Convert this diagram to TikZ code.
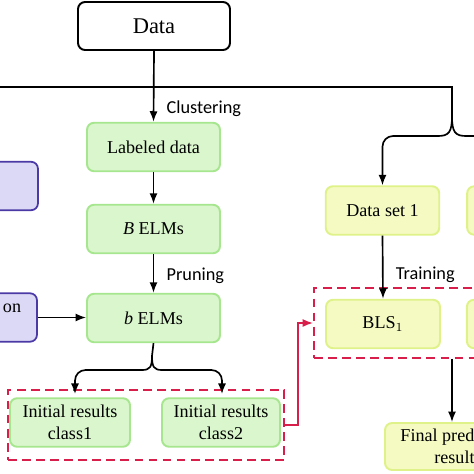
\documentclass[tikz,border=0pt]{standalone}
\usepackage{fontspec}
\setmainfont{Liberation Serif}
\newfontfamily\lblfont{Carlito}
\usepackage{tikz}
\usetikzlibrary{calc,positioning,arrows,arrows.meta,fit}
\tikzset{>={Latex[length=6pt,width=4.6pt]}}
\definecolor{grfill}{HTML}{DAF6CC}
\definecolor{grline}{HTML}{A6E68E}
\definecolor{yefill}{HTML}{F4FAC2}
\definecolor{yeline}{HTML}{DFF28A}
\definecolor{pufill}{HTML}{DCD9F6}
\definecolor{puline}{HTML}{4B3AA6}
\definecolor{redln}{HTML}{D81E4A}

\begin{document}
\begin{tikzpicture}[x=0.02cm, y=-0.02cm, line width=0.95pt,
  box/.style = {rectangle, rounded corners=4pt, align=center, inner sep=0pt, font=\fontsize{10.3}{12.3}\selectfont},
  green/.style = {box, draw=grline, fill=grfill, line width=1.1pt, minimum width=2.66cm, minimum height=0.97cm},
  yellow/.style = {box, draw=yeline, fill=yefill, line width=1.1pt, minimum width=2.27cm, minimum height=0.97cm},
  purple/.style = {box, draw=puline, fill=pufill, line width=1pt, minimum width=1.96cm, minimum height=0.97cm},
  reddash/.style = {rectangle, draw=redln, dashed, dash pattern=on 5pt off 3pt, line width=1pt, inner sep=0pt},
  lbl/.style = {anchor=west, inner sep=0pt, font=\lblfont\fontsize{10.4}{12}\selectfont}]
          \useasboundingbox (0,0) rectangle (474,474);
          \clip (0,0) rectangle (474,474);
          % nodes
          \node[box, draw=black, line width=1.1pt, minimum width=3.04cm, minimum height=0.96cm, font=\fontsize{12.8}{14}\selectfont] (data) at (154,26) {Data};
          \node[green] (labeled) at (153.5,147) {Labeled data};
          \node[green] (bigelms) at (153.5,229) {\textit{B} ELMs};
          \node[green] (smallelms) at (153.5,318) {\textit{b} ELMs};
          \node[purple] (purA) at (-11,186) {};
          \node[purple] (purB) at (-12,317.5) {};
          \node[inner sep=0pt, font=\fontsize{10.3}{12.3}\selectfont] (purBtext) at (12,308) {on};
          \node[green, minimum width=2.4cm] (classA) at (70,422.5) {Initial results\\class1};
          \node[green, minimum width=2.36cm] (classB) at (221,422.5) {Initial results\\class2};
          \node[reddash, minimum width=5.52cm, minimum height=1.4cm] (redA) at (146,425) {};

          \node[yellow] (setA) at (382.5,210.5) {Data set 1};
          \node[yellow, right=0.52cm of setA] (setB) {};
          \node[yellow, minimum width=2.28cm] (blsA) at (383,324) {BLS$_1$};
          \node[yellow, minimum width=2.28cm, right=0.5cm of blsA] (blsB) {};
          \node[reddash, minimum width=5.52cm, minimum height=1.4cm] (redB) at (452,323) {};
          \node[yellow, minimum width=2.92cm, minimum height=0.94cm] (final) at (458,446.5) {Final prediction\\results};

          % connections
          \draw (-10,87) -- (452,87) -- (452,116) .. controls (452,132) and (449,136) .. (438,136) -- (394,136) coordinate (splitA);
          \draw (452,116) .. controls (452,132) and (455,136) .. (466,136) -- (490,136);
          \draw[->, rounded corners=6pt] (splitA) -| (setA.north);
          \draw[->] (data.south) -- node[lbl, right=7pt, pos=0.82]{Clustering} (labeled.north);
          \draw[->] (labeled.south) -- (bigelms.north);
          \draw[->] (bigelms.south) -- node[lbl, right=7pt, pos=0.55]{Pruning} (smallelms.north);
          \draw[->] (purB.east) -- (purB.east -| smallelms.west);
          \draw (smallelms.south) -- (152,356) .. controls (152,367) and (150,370) .. (142,370) coordinate (forkA);
          \draw (152,356) .. controls (152,367) and (154,370) .. (162,370) coordinate (forkB);
          \draw[->, rounded corners=6pt] (forkA) -| (75,394);
          \draw[->, rounded corners=6pt] (forkB) -| (222,394);
          \draw[->] (setA.south) -- node[lbl, right=7pt, pos=0.62]{Training} (blsA.north);
          \draw[->, redln, line width=1pt] (redA.east) -- ++(13,0) |- (redB.west);
          \draw[->] (redB.south) -- (redB.south |- final.north);
        \end{tikzpicture}
\end{document}
